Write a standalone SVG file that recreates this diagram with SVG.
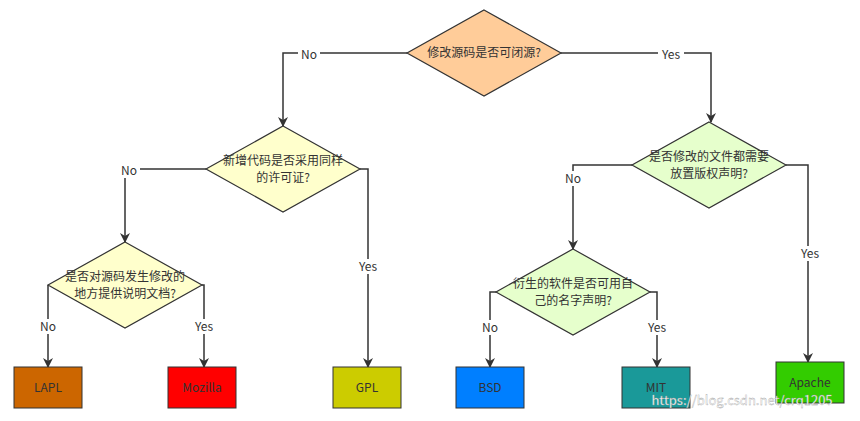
<svg xmlns="http://www.w3.org/2000/svg" width="860" height="421" viewBox="0 0 860 421">
<defs>
<marker id="a" markerWidth="10" markerHeight="10" refX="9" refY="5" orient="auto" markerUnits="userSpaceOnUse">
<path d="M0,0 L10,5 L0,10 L3,5 Z" fill="#333"/>
</marker>
<style>
.d{stroke:#333;stroke-width:1.2}
.b{stroke:#333;stroke-width:1}
.c{fill:none;stroke:#333;stroke-width:1.5;marker-end:url(#a)}
text{font-family:"Noto Sans CJK SC","Liberation Sans",sans-serif;font-size:12px;fill:#333;text-anchor:middle}
.l{fill:#fff}
</style>
</defs>
<rect width="860" height="421" fill="#fff"/>
<g id="connectors">
<path class="c" d="M407,53 H283 V126"/>
<path class="c" d="M561,53 H711 V122"/>
<path class="c" d="M206,169 H125 V242"/>
<path class="c" d="M360,169 H368 V367"/>
<path class="c" d="M48,285 V367"/>
<path class="c" d="M202,285 H204 V367"/>
<path class="c" d="M632,165 H573 V249"/>
<path class="c" d="M786,165 H808 V362"/>
<path class="c" d="M496,292 H490 V367"/>
<path class="c" d="M650,292 H657 V367"/>
<rect class="l" x="298" y="47" width="22" height="15"/><text x="309" y="59">No</text>
<rect class="l" x="658" y="47" width="26" height="15"/><text x="671" y="59">Yes</text>
<rect class="l" x="118" y="163" width="22" height="15"/><text x="129" y="175">No</text>
<rect class="l" x="355" y="259" width="26" height="15"/><text x="368" y="271">Yes</text>
<rect class="l" x="37" y="319" width="22" height="15"/><text x="48" y="331">No</text>
<rect class="l" x="191" y="319" width="26" height="15"/><text x="204" y="331">Yes</text>
<rect class="l" x="562" y="171" width="22" height="15"/><text x="573" y="183">No</text>
<rect class="l" x="797" y="246" width="26" height="15"/><text x="810" y="258">Yes</text>
<rect class="l" x="479" y="320" width="22" height="15"/><text x="490" y="332">No</text>
<rect class="l" x="644" y="320" width="26" height="15"/><text x="657" y="332">Yes</text>
</g>
<g id="q1"><polygon class="d" fill="#FFCC99" points="484,10 561,53 484,96 407,53"/><text x="484" y="57">修改源码是否可闭源?</text></g>
<g id="q2"><polygon class="d" fill="#FFFFCC" points="283,126 360,169 283,212 206,169"/><text x="283" y="165">新增代码是否采用同样</text><text x="283" y="182">的许可证?</text></g>
<g id="q3"><polygon class="d" fill="#E6FFCC" points="709,122 786,165 709,208 632,165"/><text x="709" y="161">是否修改的文件都需要</text><text x="709" y="178">放置版权声明?</text></g>
<g id="q4"><polygon class="d" fill="#FFFFCC" points="125,242 202,285 125,328 48,285"/><text x="125" y="281">是否对源码发生修改的</text><text x="125" y="298">地方提供说明文档?</text></g>
<g id="q5"><polygon class="d" fill="#E6FFCC" points="573,249 650,292 573,335 496,292"/><text x="573" y="288">衍生的软件是否可用自</text><text x="573" y="305">己的名字声明?</text></g>
<g id="lapl"><rect class="b" x="14" y="367" width="68" height="41" fill="#CC6600"/><text x="48" y="392">LAPL</text></g>
<g id="mozilla"><rect class="b" x="168" y="367" width="68" height="41" fill="#FF0000"/><text x="202" y="392">Mozilla</text></g>
<g id="gpl"><rect class="b" x="333" y="367" width="68" height="41" fill="#CCCC00"/><text x="367" y="392">GPL</text></g>
<g id="bsd"><rect class="b" x="456" y="367" width="68" height="41" fill="#007FFF"/><text x="490" y="392">BSD</text></g>
<g id="mit"><rect class="b" x="622" y="367" width="68" height="41" fill="#1A9999"/><text x="656" y="392">MIT</text></g>
<g id="apache"><rect class="b" x="776" y="362" width="68" height="41" fill="#33CC00"/><text x="810" y="387">Apache</text></g>
<text x="742" y="405" style="fill:#fff;stroke:#999;stroke-width:0.3;font-size:13px">https://blog.csdn.net/crq1205</text>
</svg>
